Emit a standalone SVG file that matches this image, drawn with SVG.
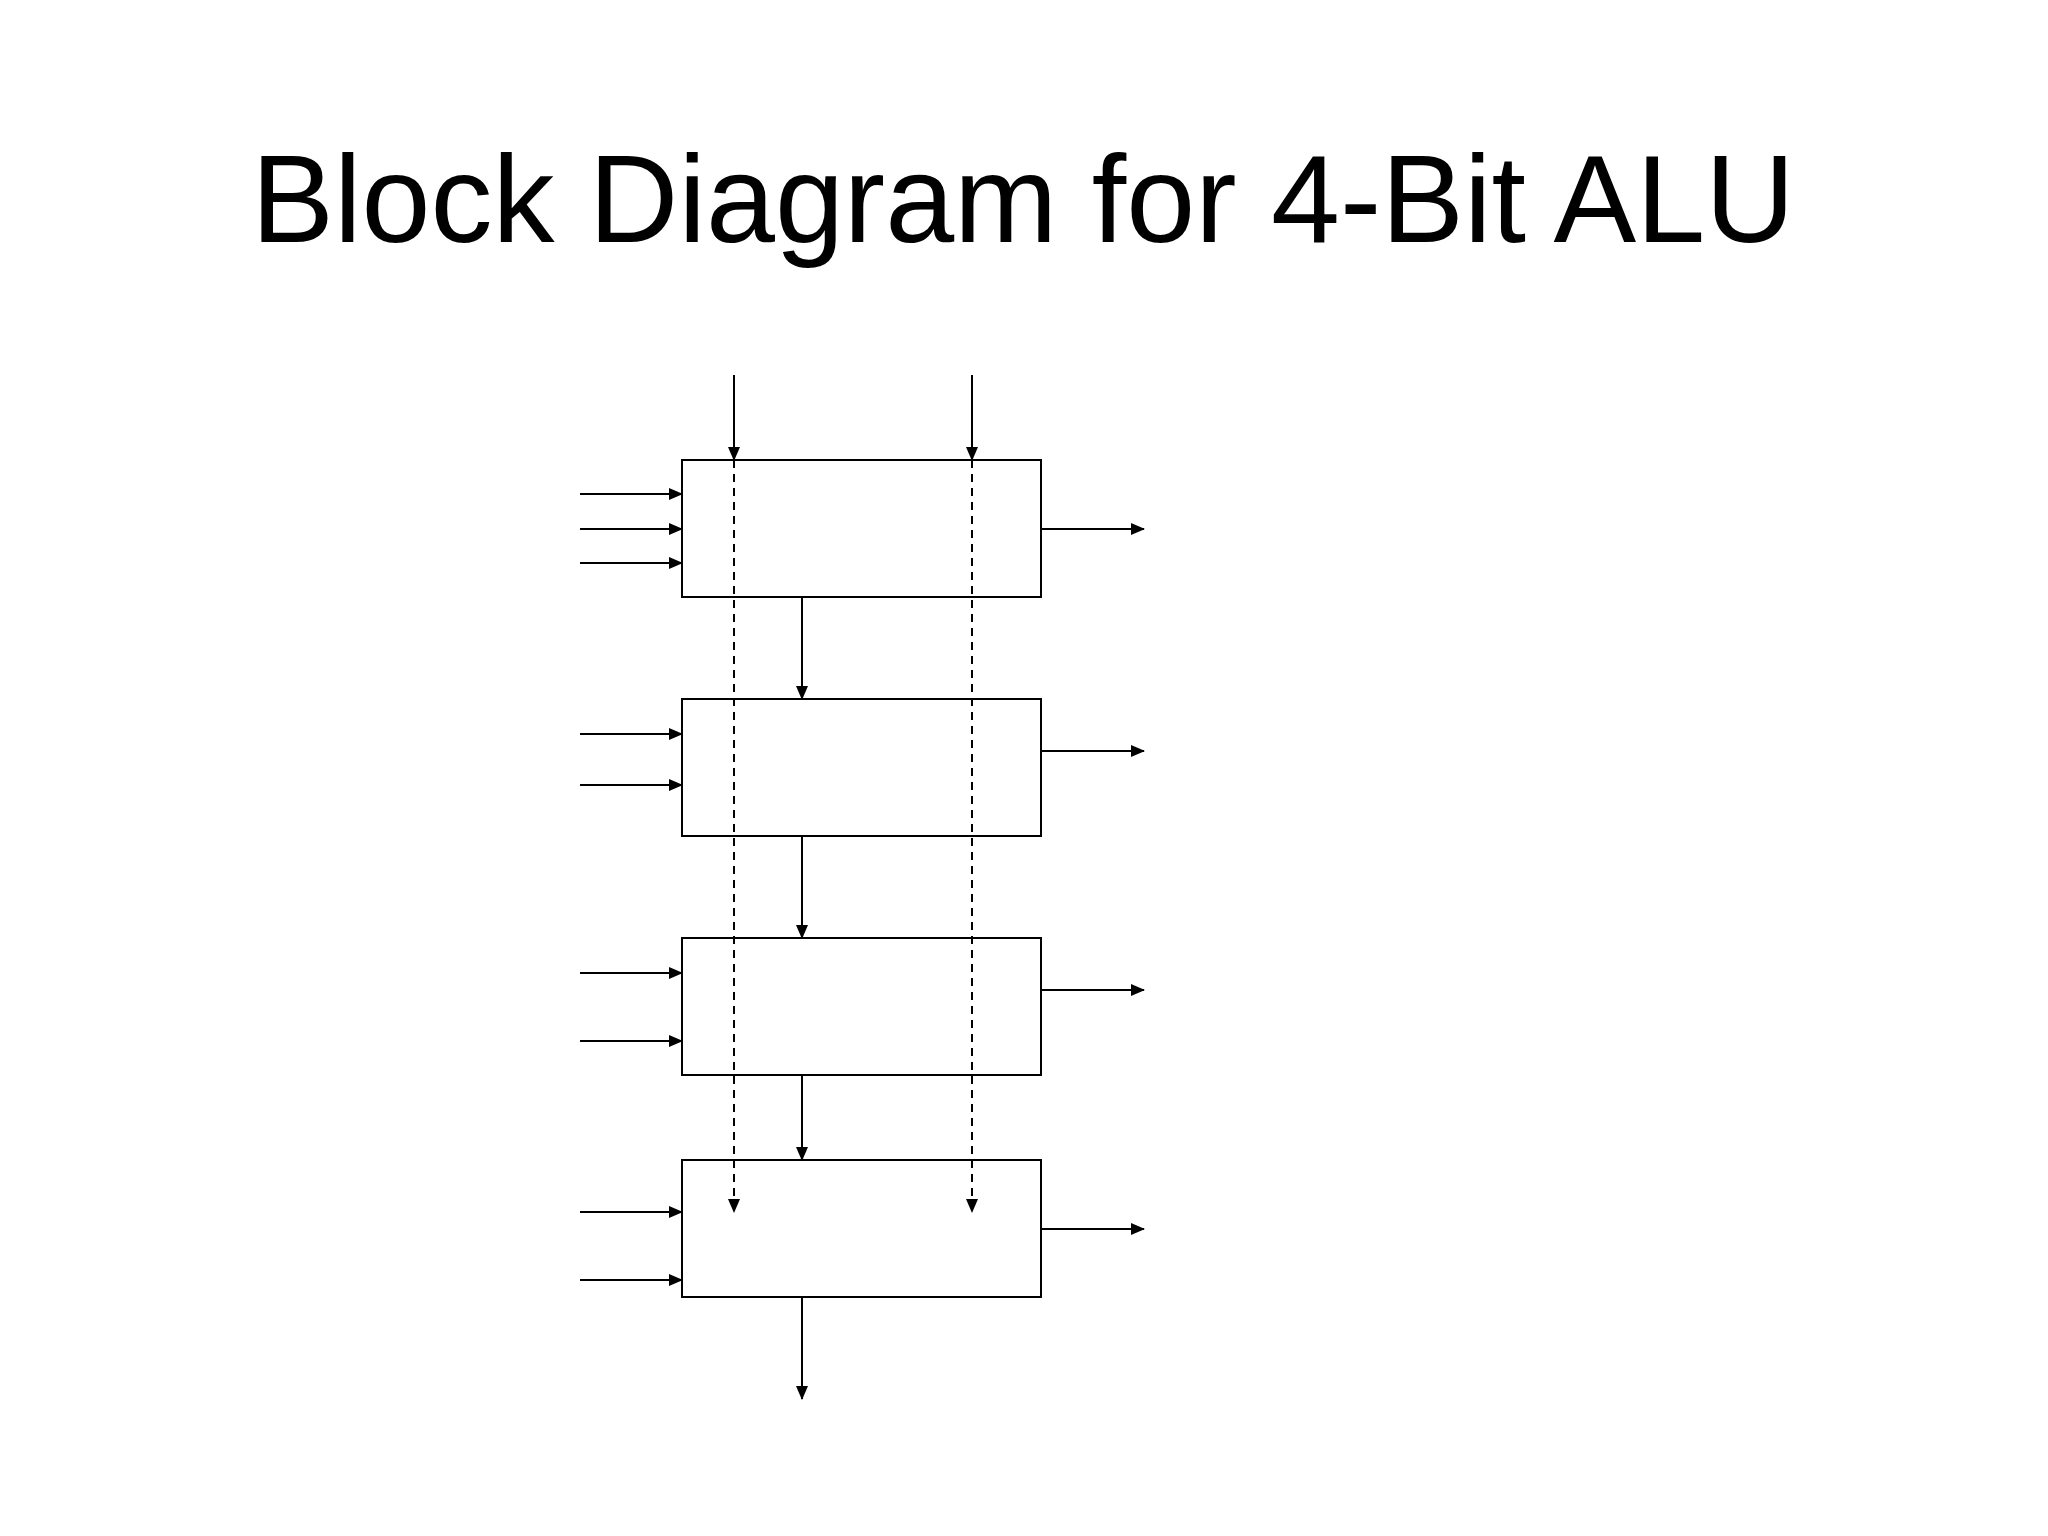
<svg xmlns="http://www.w3.org/2000/svg" width="2048" height="1536" viewBox="0 0 2048 1536">
<defs><marker id="a" markerWidth="10" markerHeight="10" refX="9" refY="5" orient="auto" markerUnits="userSpaceOnUse"><path d="M0,0 L10,5 L0,10 z" fill="#000" transform="translate(0,0) scale(1.4) translate(-3.5,-1.4)"/></marker>
<marker id="m" markerWidth="14" markerHeight="14" refX="13" refY="7" orient="auto" markerUnits="userSpaceOnUse"><path d="M0,1 L14,7 L0,13 z" fill="#000"/></marker></defs>
<style>.b{fill:#fff;stroke:#000;stroke-width:2}.l{stroke:#000;stroke-width:2;fill:none;marker-end:url(#m)}.d{stroke-dasharray:8,6}</style>
<rect width="2048" height="1536" fill="#fff"/>
<text x="1023" y="242" text-anchor="middle" font-family="Liberation Sans, Arial, sans-serif" font-size="124">Block Diagram for 4-Bit ALU</text>
<g id="n1"><rect class="b" x="682" y="460" width="359" height="137"/></g>
<g id="n2"><rect class="b" x="682" y="699" width="359" height="137"/></g>
<g id="n3"><rect class="b" x="682" y="938" width="359" height="137"/></g>
<g id="n4"><rect class="b" x="682" y="1160" width="359" height="137"/></g>
<g id="connectors">
<path class="l" d="M734 375V460"/><path class="l" d="M972 375V460"/>
<path class="l d" d="M734 460V1212"/><path class="l d" d="M972 460V1212"/>
<path class="l" d="M580 494H682"/><path class="l" d="M580 529H682"/><path class="l" d="M580 563H682"/>
<path class="l" d="M580 734H682"/><path class="l" d="M580 785H682"/>
<path class="l" d="M580 973H682"/><path class="l" d="M580 1041H682"/>
<path class="l" d="M580 1212H682"/><path class="l" d="M580 1280H682"/>
<path class="l" d="M1041 529H1144"/><path class="l" d="M1041 751H1144"/><path class="l" d="M1041 990H1144"/><path class="l" d="M1041 1229H1144"/>
<path class="l" d="M802 597V699"/><path class="l" d="M802 836V938"/><path class="l" d="M802 1075V1160"/><path class="l" d="M802 1297V1399"/>
</g>
</svg>
